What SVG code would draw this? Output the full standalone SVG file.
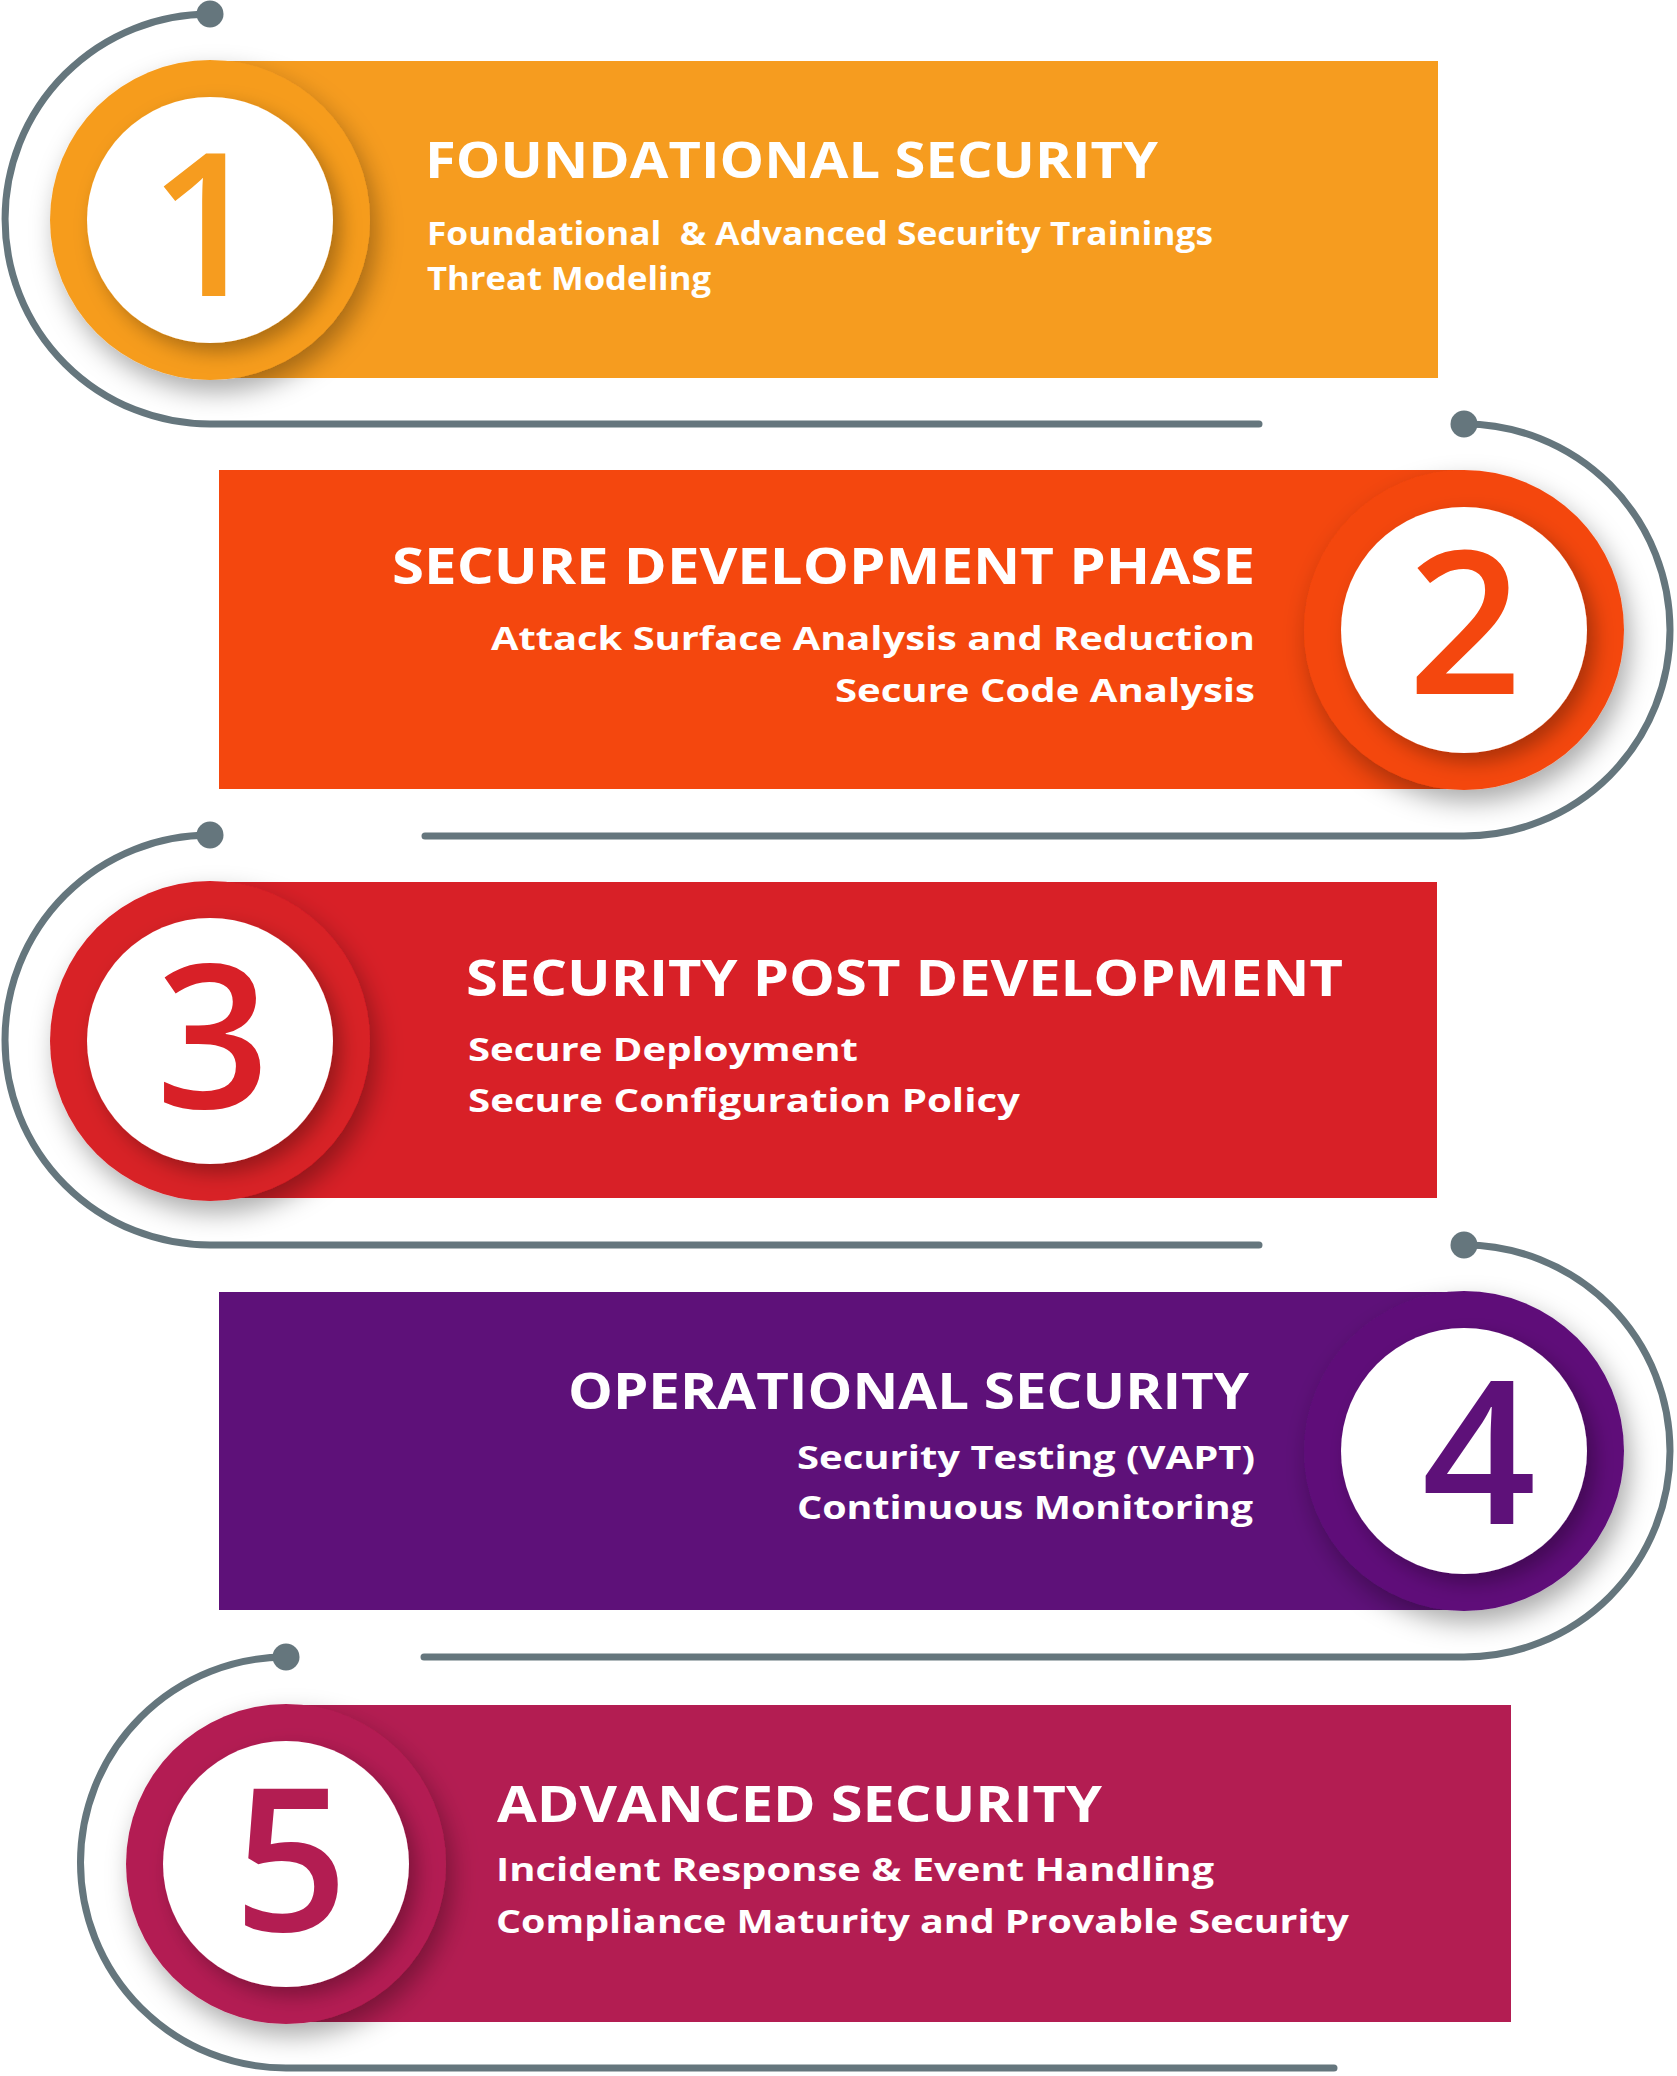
<svg xmlns="http://www.w3.org/2000/svg" width="1677" height="2076" viewBox="0 0 1677 2076">
<style>
.t{font-family:"Open Sans","Liberation Sans",sans-serif;font-weight:700;font-size:50px;fill:#fff}
.s{font-family:"Open Sans","Liberation Sans",sans-serif;font-weight:700;font-size:33px;fill:#fff;white-space:pre}
.n{font-family:"Open Sans","Liberation Sans",sans-serif;font-weight:600;font-size:200px;text-anchor:middle}
.ln{fill:none;stroke:#65767d;stroke-width:7;stroke-linecap:round}
.dot{fill:#65767d}
.ring{filter:url(#sh)}
.inner{fill:#fff;filter:url(#shi)}
</style>
<defs>
<filter id="sh" x="-40%" y="-40%" width="180%" height="180%">
<feDropShadow dx="6" dy="12" stdDeviation="13" flood-color="#000" flood-opacity="0.33"/>
</filter>
<filter id="shi" x="-40%" y="-40%" width="180%" height="180%">
<feDropShadow dx="8" dy="9" stdDeviation="10" flood-color="#000" flood-opacity="0.3"/>
</filter>
</defs>
<rect width="1677" height="2076" fill="#fff"/>

<g id="connectors">
<path class="ln" d="M210 14 A205 205 0 0 0 210 424 L1259 424"/>
<circle class="dot" cx="210" cy="14" r="13.5"/>
<path class="ln" d="M1464 424 A206 206 0 0 1 1464 836 L425 836"/>
<circle class="dot" cx="1464" cy="424" r="13.5"/>
<path class="ln" d="M210 835 A205 205 0 0 0 210 1245 L1259 1245"/>
<circle class="dot" cx="210" cy="835" r="13.5"/>
<path class="ln" d="M1464 1245 A206 206 0 0 1 1464 1657 L424 1657"/>
<circle class="dot" cx="1464" cy="1245" r="13.5"/>
<path class="ln" d="M286 1657 A205.5 205.5 0 0 0 286 2068 L1334 2068"/>
<circle class="dot" cx="286" cy="1657" r="13.5"/>
</g>

<g id="step1">
<rect x="210" y="61" width="1228" height="317" fill="#f69c1f"/>
<circle class="ring" cx="210" cy="220" r="160" fill="#f69c1f"/>
<circle class="inner" cx="210" cy="220" r="123"/>
<text class="n" x="206" y="296" fill="#f69c1f">1</text>
<text class="t" x="425" y="178" textLength="733" lengthAdjust="spacingAndGlyphs">FOUNDATIONAL SECURITY</text>
<text class="s" x="427" y="245" textLength="786" lengthAdjust="spacingAndGlyphs">Foundational  &amp; Advanced Security Trainings</text>
<text class="s" x="427" y="290" textLength="284" lengthAdjust="spacingAndGlyphs">Threat Modeling</text>
</g>

<g id="step2">
<rect x="219" y="470" width="1245" height="319" fill="#f4470e"/>
<circle class="ring" cx="1464" cy="630" r="160" fill="#f4470e"/>
<circle class="inner" cx="1464" cy="630" r="123"/>
<text class="n" x="1465" y="694" fill="#f4470e">2</text>
<text class="t" x="392" y="584" textLength="863" lengthAdjust="spacingAndGlyphs">SECURE DEVELOPMENT PHASE</text>
<text class="s" x="491" y="650" textLength="764" lengthAdjust="spacingAndGlyphs">Attack Surface Analysis and Reduction</text>
<text class="s" x="835" y="702" textLength="420" lengthAdjust="spacingAndGlyphs">Secure Code Analysis</text>
</g>

<g id="step3">
<rect x="210" y="882" width="1227" height="316" fill="#d82027"/>
<circle class="ring" cx="210" cy="1041" r="160" fill="#d82027"/>
<circle class="inner" cx="210" cy="1041" r="123"/>
<text class="n" x="213" y="1108" fill="#d82027">3</text>
<text class="t" x="466" y="996" textLength="877" lengthAdjust="spacingAndGlyphs">SECURITY POST DEVELOPMENT</text>
<text class="s" x="468" y="1061" textLength="390" lengthAdjust="spacingAndGlyphs">Secure Deployment</text>
<text class="s" x="468" y="1112" textLength="552" lengthAdjust="spacingAndGlyphs">Secure Configuration Policy</text>
</g>

<g id="step4">
<rect x="219" y="1292" width="1245" height="318" fill="#5e1179"/>
<circle class="ring" cx="1464" cy="1451" r="160" fill="#5e1179"/>
<circle class="inner" cx="1464" cy="1451" r="123"/>
<text class="n" x="1479" y="1524" fill="#5e1179">4</text>
<text class="t" x="568" y="1409" textLength="681" lengthAdjust="spacingAndGlyphs">OPERATIONAL SECURITY</text>
<text class="s" x="797" y="1469" textLength="458" lengthAdjust="spacingAndGlyphs">Security Testing (VAPT)</text>
<text class="s" x="797" y="1519" textLength="456" lengthAdjust="spacingAndGlyphs">Continuous Monitoring</text>
</g>

<g id="step5">
<rect x="286" y="1705" width="1225" height="317" fill="#b31d52"/>
<circle class="ring" cx="286" cy="1864" r="160" fill="#b31d52"/>
<circle class="inner" cx="286" cy="1864" r="123"/>
<text class="n" x="291" y="1931" fill="#b31d52">5</text>
<text class="t" x="497" y="1822" textLength="605" lengthAdjust="spacingAndGlyphs">ADVANCED SECURITY</text>
<text class="s" x="496" y="1881" textLength="718" lengthAdjust="spacingAndGlyphs">Incident Response &amp; Event Handling</text>
<text class="s" x="496" y="1933" textLength="853" lengthAdjust="spacingAndGlyphs">Compliance Maturity and Provable Security</text>
</g>
</svg>
